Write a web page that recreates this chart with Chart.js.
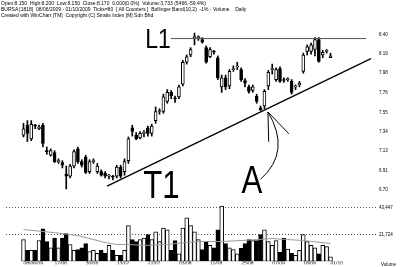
<!DOCTYPE html>
<html>
<head>
<meta charset="utf-8">
<script src="https://cdn.jsdelivr.net/npm/chart.js@4.4.0/dist/chart.umd.min.js"></script>
<style>
  body { margin: 0; background: #fff; }
  #wrap { position: relative; width: 400px; height: 267px; overflow: hidden; font-family: "Liberation Sans", Arial, sans-serif; color: #000; }
  #head { position: absolute; left: 1px; top: 0; font-size: 5px; line-height: 6px; white-space: pre; }
  #volLabel { position: absolute; left: 381px; top: 262px; font-size: 4.5px; }
  canvas { position: absolute; left: 0; top: 0; }
</style>
</head>
<body>
<div id="wrap">
  <canvas id="chart" width="400" height="267"></canvas>
  <div id="head">Open:8.150  High:8.200  Low:8.150  Close:8.170  0.000(0.0%)  Volume:3,733 (5466,-59.4%)
BURSA [1818]  08/06/2009 - 01/10/2009  Ticks=80  [ All Counters ]  Bollinger Band(10,2)  -1% - Volume    Daily
Created with WinChart [TM]  Copyright (C) Straits Index [M] Sdn Bhd</div>
  <div id="volLabel">Volume</div>
</div>
<script>
// daily candles, 08/06/2009 - 01/10/2009
const opens = [
  7.30, 7.41, 7.26, 7.40, 7.37, 7.41, 7.12, 7.08, 7.11, 7.01,
  7.00, 6.87, 6.85, 6.96, 7.15, 7.01, 7.06, 6.90, 7.01, 6.90,
  6.90, 6.88, 6.85, 6.84, 6.85, 6.95, 6.90, 7.02, 7.38, 7.30,
  7.27, 7.32, 7.38, 7.32, 7.46, 7.56, 7.56, 7.67, 7.77, 7.70,
  7.72, 7.86, 8.10, 8.18, 8.37, 8.37, 8.35, 8.26, 8.16, 8.22,
  8.15, 7.83, 7.93, 7.84, 8.02, 8.05, 8.02, 7.90, 7.83, 7.79,
  7.73, 7.60, 7.62, 7.84, 8.02, 7.91, 8.03, 7.91, 7.91, 7.89,
  7.83, 7.85, 8.00, 8.22, 8.22, 8.24, 8.35, 8.18, 8.22, 8.15
];
const highs = [
  7.43, 7.46, 7.46, 7.42, 7.41, 7.43, 7.17, 7.15, 7.13, 7.04,
  7.02, 6.96, 6.98, 7.14, 7.17, 7.03, 7.08, 7.03, 7.04, 6.99,
  6.92, 6.90, 6.87, 6.86, 6.97, 6.97, 7.04, 7.28, 7.41, 7.33,
  7.34, 7.35, 7.40, 7.42, 7.61, 7.59, 7.75, 7.80, 7.79, 7.73,
  7.85, 8.12, 8.18, 8.26, 8.42, 8.39, 8.37, 8.28, 8.26, 8.23,
  8.17, 7.96, 7.96, 8.02, 8.06, 8.10, 8.04, 7.92, 7.85, 7.85,
  7.75, 7.62, 7.80, 8.01, 8.08, 8.04, 8.05, 7.93, 7.93, 7.91,
  7.85, 7.89, 8.20, 8.29, 8.31, 8.37, 8.37, 8.23, 8.24, 8.20
];
const lows = [
  7.28, 7.23, 7.24, 7.37, 7.36, 7.17, 7.09, 7.07, 7.00, 6.99,
  6.94, 6.71, 6.83, 6.94, 6.99, 6.95, 6.88, 6.88, 6.99, 6.88,
  6.85, 6.83, 6.82, 6.81, 6.83, 6.83, 6.86, 6.99, 7.29, 7.25,
  7.26, 7.28, 7.29, 7.29, 7.43, 7.53, 7.54, 7.65, 7.70, 7.66,
  7.70, 7.84, 8.08, 8.16, 8.29, 8.34, 8.31, 8.09, 8.15, 8.19,
  7.91, 7.77, 7.80, 7.81, 8.00, 8.02, 7.89, 7.83, 7.76, 7.77,
  7.65, 7.57, 7.59, 7.80, 7.97, 7.89, 7.88, 7.88, 7.89, 7.75,
  7.80, 7.83, 7.98, 8.18, 8.19, 8.17, 8.10, 8.15, 8.20, 8.15
];
const closes = [
  7.37, 7.32, 7.42, 7.40, 7.39, 7.21, 7.12, 7.13, 7.01, 7.01,
  6.97, 6.85, 6.96, 7.12, 7.01, 6.97, 6.89, 7.01, 7.01, 6.96,
  6.86, 6.85, 6.85, 6.84, 6.95, 6.85, 7.01, 7.26, 7.34, 7.26,
  7.32, 7.32, 7.32, 7.40, 7.56, 7.56, 7.72, 7.77, 7.73, 7.70,
  7.83, 8.10, 8.16, 8.24, 8.37, 8.37, 8.32, 8.10, 8.24, 8.21,
  7.93, 7.93, 7.83, 8.00, 8.02, 8.05, 7.91, 7.87, 7.78, 7.83,
  7.67, 7.58, 7.78, 7.99, 8.02, 8.02, 7.89, 7.90, 7.91, 7.77,
  7.83, 7.87, 8.18, 8.27, 8.29, 8.35, 8.11, 8.21, 8.22, 8.17
];
const volumes = [
  17700, 8900, 8900, 8900, 16900, 26500, 16000, 11000, 19000, 11000,
  19000, 22500, 13700, 8900, 9600, 11000, 14500, 8000, 8900, 6400,
  8900, 6400, 12900, 8900, 4800, 4800, 8900, 29000, 17700, 16000,
  17700, 19000, 21700, 17700, 24000, 16000, 27000, 25700, 9000, 16900,
  6000, 27000, 35400, 29000, 24000, 17700, 9600, 16000, 12900, 11000,
  25700, 45000, 14500, 11000, 9600, 6000, 10500, 14500, 17700, 16900,
  16900, 21700, 25700, 16000, 12900, 16900, 7200, 19000, 10000, 6400,
  4800, 8900, 21700, 16000, 13000, 11000, 6000, 13000, 12000, 3733
];
// volume average line, read where it could be seen
const maIndex = [0, 1, 3, 8, 14, 18, 21, 24, 27, 31, 37, 42, 45, 51, 56, 60, 64, 68, 72, 79];
const maVolume = [25700, 25500, 24900, 23300, 20900, 17700, 15300, 13700, 13700, 12900,
                  13700, 15300, 16100, 16100, 16900, 17700, 18500, 17700, 16900, 14500];

const tickIndex = [0, 8, 16, 24, 32, 40, 48, 56, 64, 72, 79];
const tickLabels = ["08/06/09", "17/06", "30/06", "13/07", "22/07", "03/08", "11/08", "25/08", "07/09", "18/09", "01/10"];
const priceTicks = [8.40, 8.19, 7.98, 7.76, 7.55, 7.34, 7.13, 6.91, 6.70];
const volumeTicks = [21724, 43447];

// hand drawn lines (index, price)
const trendT1 = [{x: 21.5, y: 6.74}, {x: 89.4, y: 8.14}];
const levelL1 = [{x: 37.9, y: 8.36}, {x: 88.2, y: 8.36}];

const isDown = i => closes[i] < opens[i] || (closes[i] === opens[i] && i > 0 && closes[i] < closes[i - 1]);

// letters and arrow drawn by hand on the picture
const notes = {
  id: "notes",
  afterDatasetsDraw(chart) {
    const {ctx, scales: {x, y}} = chart;
    const px = v => x.getPixelForValue(v);
    const py = v => y.getPixelForValue(v);
    function label(text, i, p, size) {
      ctx.save();
      ctx.translate(px(i), py(p));
      ctx.scale(0.82, 1);
      ctx.font = size + 'px "Liberation Sans", Arial, sans-serif';
      ctx.fillStyle = "#000";
      ctx.textBaseline = "alphabetic";
      ctx.fillText(text, 0, 0);
      ctx.restore();
    }
    label("L1", 31.3, 8.26, 28);
    label("T1", 30.8, 6.61, 38);
    label("A", 56.1, 6.66, 38);

    ctx.save();
    ctx.strokeStyle = "#000";
    ctx.lineWidth = 1;
    ctx.beginPath();
    ctx.moveTo(px(61.0), py(6.816));
    ctx.quadraticCurveTo(px(69.0), py(7.12), px(62.9), py(7.554));
    ctx.moveTo(px(62.9), py(7.554));
    ctx.lineTo(px(63.1), py(7.228));
    ctx.moveTo(px(62.9), py(7.554));
    ctx.lineTo(px(68.3), py(7.315));
    ctx.stroke();
    ctx.restore();
  }
};

new Chart(document.getElementById("chart"), {
  type: "bar",
  data: {
    datasets: [
      {
        type: "line",
        data: trendT1,
        borderColor: "#000",
        borderWidth: 1.3,
        pointRadius: 0,
        clip: false,
        order: 0
      },
      {
        type: "line",
        data: levelL1,
        borderColor: "#555",
        borderWidth: 1,
        pointRadius: 0,
        clip: false,
        order: 0
      },
      {
        data: opens.map((o, i) => ({x: i, y: [o, closes[i]]})),
        backgroundColor: ctx => isDown(ctx.dataIndex) ? "#000" : "#fff",
        borderColor: "#000",
        borderWidth: 1,
        borderSkipped: false,
        barThickness: 3,
        minBarLength: 1,
        grouped: false,
        order: 1
      },
      {
        data: lows.map((l, i) => ({x: i, y: [l, highs[i]]})),
        backgroundColor: "#000",
        barThickness: 1,
        grouped: false,
        order: 2
      },
      {
        type: "line",
        yAxisID: "yv",
        data: maIndex.map((v, i) => ({x: v, y: maVolume[i]})),
        borderColor: "#999",
        borderWidth: 1,
        pointRadius: 0,
        order: 0
      },
      {
        yAxisID: "yv",
        data: volumes.map((v, i) => ({x: i, y: v})),
        backgroundColor: ctx => isDown(ctx.dataIndex) ? "#000" : "#fff",
        borderColor: "#000",
        borderWidth: 1,
        borderSkipped: false,
        barPercentage: 1,
        categoryPercentage: 1,
        grouped: false,
        order: 3
      }
    ]
  },
  options: {
    responsive: false,
    animation: false,
    devicePixelRatio: 1,
    layout: {padding: {left: 6, top: 28}},
    plugins: {legend: {display: false}, tooltip: {enabled: false}},
    scales: {
      x: {
        type: "linear",
        min: -0.5,
        max: 79.5,
        grid: {display: false, drawTicks: false},
        border: {display: false},
        afterBuildTicks: s => { s.ticks = tickIndex.map(v => ({value: v})); },
        afterFit: s => { s.height = 3; },
        ticks: {
          autoSkip: false, maxRotation: 0, align: "start", padding: -1,
          font: {size: 5, family: "Liberation Sans"}, color: "#000",
          callback: (v, i) => tickLabels[i]
        }
      },
      y: {
        position: "right",
        stack: "panes",
        stackWeight: 172,
        min: 6.61,
        max: 8.476,
        // invisible tick marks push the labels out to the right edge
        grid: {display: true, drawOnChartArea: false, drawTicks: true, tickLength: 31, tickColor: "rgba(0,0,0,0)"},
        border: {display: false},
        afterBuildTicks: s => { s.ticks = priceTicks.map(v => ({value: v})); },
        afterFit: s => { s.width = 52; },
        ticks: {padding: 0, font: {size: 4.5, family: "Liberation Sans"}, color: "#000", callback: v => v.toFixed(2)}
      },
      yv: {
        position: "right",
        stack: "panes",
        stackWeight: 64,
        min: 0,
        max: 51500,
        grid: {color: "#555", tickColor: "#555", tickLength: 28, tickBorderDash: [1, 2]},
        border: {display: false, dash: [1, 2]},
        afterBuildTicks: s => { s.ticks = volumeTicks.map(v => ({value: v})); },
        afterFit: s => { s.width = 52; },
        ticks: {padding: 3, font: {size: 4.5, family: "Liberation Sans"}, color: "#000", callback: v => v.toLocaleString("en-US")}
      }
    }
  },
  plugins: [notes]
});
</script>
</body>
</html>
